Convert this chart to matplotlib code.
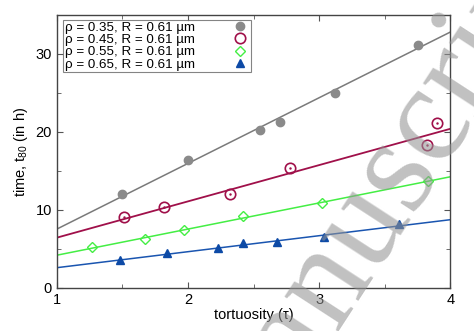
import matplotlib.pyplot as plt
import numpy as np

plt.rcParams['font.family'] = ['Liberation Sans', 'DejaVu Sans']

# measured t80 vs tortuosity for each porosity
tau_35 = [1.50, 2.00, 2.55, 2.70, 3.12, 3.75]
t80_35 = [12.1, 16.4, 20.3, 21.3, 25.0, 31.2]

tau_45 = [1.51, 1.82, 2.32, 2.78, 3.82, 3.90]
t80_45 = [9.1, 10.4, 12.1, 15.4, 18.3, 21.1]

tau_55 = [1.27, 1.67, 1.97, 2.42, 3.02, 3.83]
t80_55 = [5.3, 6.3, 7.4, 9.2, 10.9, 13.7]

tau_65 = [1.48, 1.84, 2.23, 2.42, 2.68, 3.04, 3.61]
t80_65 = [3.6, 4.5, 5.1, 5.7, 5.9, 6.5, 8.2]

# linear fits, value at tau = 1 and tau = 4
fit_tau = [1.0, 4.0]
fit_35 = [7.55, 32.8]
fit_45 = [6.45, 20.4]
fit_55 = [4.2, 14.25]
fit_65 = [2.6, 8.75]

labels = ['ρ = 0.35, R = 0.61 µm',
          'ρ = 0.45, R = 0.61 µm',
          'ρ = 0.55, R = 0.61 µm',
          'ρ = 0.65, R = 0.61 µm']

c_gray = '#8a8a8a'
c_red = '#a0104a'
c_green = '#44ee44'
c_blue = '#1a55b0'

fig = plt.figure(figsize=(4.74, 3.31), dpi=100)
ax = fig.add_axes([0.12, 0.13, 0.83, 0.825])

ax.plot(fit_tau, fit_35, color='#7a7a7a', lw=1.1)
ax.plot(fit_tau, fit_45, color=c_red, lw=1.3)
ax.plot(fit_tau, fit_55, color=c_green, lw=1.1)
ax.plot(fit_tau, fit_65, color=c_blue, lw=1.1)

h1, = ax.plot(tau_35, t80_35, 'o', color=c_gray, ms=6, ls='none', label=labels[0])
h2, = ax.plot(tau_45, t80_45, 'o', mfc='none', mec=c_red, mew=1.2, ms=7.5,
              ls='none', label=labels[1])
ax.plot(tau_45, t80_45, '.', color=c_red, ms=1.5, ls='none')
h3, = ax.plot(tau_55, t80_55, 'D', mfc='none', mec=c_green, mew=1.0, ms=5.5,
              ls='none', label=labels[2])
h4, = ax.plot(tau_65, t80_65, '^', color='#0d4aa6', ms=5.5, ls='none', label=labels[3])

ax.set_xlim(1, 4)
ax.set_ylim(0, 35)
ax.set_xticks([1, 2, 3, 4])
ax.set_xticks([1.5, 2.5, 3.5], minor=True)
ax.set_yticks([0, 10, 20, 30])
ax.set_yticks([5, 15, 25], minor=True)
ax.tick_params(which='both', direction='in', top=True, right=True, labelsize=10.5,
               color='#555555')
ax.tick_params(which='major', length=4)
ax.tick_params(which='minor', length=3)
for s in ax.spines.values():
    s.set_color('#444444')
    s.set_linewidth(1.0)

ax.set_xlabel('tortuosity (τ)', fontsize=10.5, labelpad=1)
ax.set_ylabel(r'time, t$_{\mathregular{80}}$ (in h)', fontsize=10.5, labelpad=4)

leg = ax.legend(handles=[h1, h2, h3, h4], loc='upper left', markerfirst=False,
                fontsize=9.6, frameon=True, fancybox=False, handlelength=1.5,
                handletextpad=2.6, borderpad=0.12, labelspacing=0.0,
                borderaxespad=0.0, bbox_to_anchor=(0.0165, 0.982))
leg.get_frame().set_edgecolor('#666666')
leg.get_frame().set_linewidth(0.8)
for t in leg.get_texts():
    t.set_ha('right')

# preprint watermark
fig.text(0.80, 0.39, 'Manuscript', rotation=57, fontsize=100, family='Liberation Serif',
         color='#949494', alpha=0.58, ha='center', va='center', zorder=10)

fig.savefig('out.png', dpi=100)
